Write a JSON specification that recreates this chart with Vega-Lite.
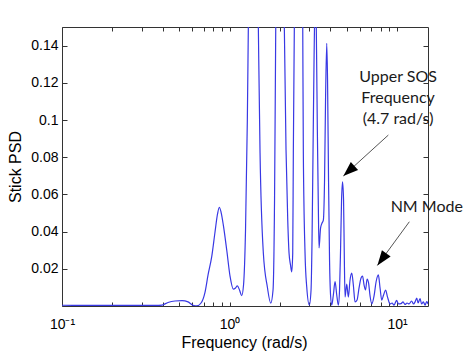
{
  "$schema": "https://vega.github.io/schema/vega-lite/v6.json",
  "width": 366,
  "height": 279,
  "autosize": {"type": "none"},
  "padding": {"left": 62, "top": 27, "right": 46, "bottom": 48},
  "background": "white",
  "config": {
    "view": {"stroke": null},
    "axis": {
      "grid": false,
      "domainColor": "#333333",
      "tickColor": "#333333",
      "domainWidth": 1,
      "tickWidth": 1,
      "labelFont": "Liberation Sans",
      "labelFontSize": 14,
      "labelColor": "#000000",
      "titleFont": "Liberation Sans",
      "titleFontSize": 16,
      "titleFontWeight": "normal",
      "titleColor": "#000000",
      "labelOverlap": false,
      "labelFlush": false
    }
  },
  "layer": [
    {
      "data": {"values": [
        {"f": 0.1, "psd": 0.0004}, {"f": 0.1281, "psd": 0.0003}, {"f": 0.222, "psd": 0.0003}, {"f": 0.3591, "psd": 0.0003},
        {"f": 0.3954, "psd": 0.0005}, {"f": 0.4294, "psd": 0.0019}, {"f": 0.4727, "psd": 0.0027}, {"f": 0.5205, "psd": 0.0029},
        {"f": 0.5652, "psd": 0.0022}, {"f": 0.6053, "psd": 0.0004}, {"f": 0.6397, "psd": 0.0001}, {"f": 0.676, "psd": 0.0016},
        {"f": 0.7143, "psd": 0.0075}, {"f": 0.7444, "psd": 0.0167}, {"f": 0.7829, "psd": 0.0265}, {"f": 0.8192, "psd": 0.0398},
        {"f": 0.848, "psd": 0.0495}, {"f": 0.8692, "psd": 0.0531}, {"f": 0.8898, "psd": 0.0505}, {"f": 0.9184, "psd": 0.0435},
        {"f": 0.9623, "psd": 0.0301}, {"f": 1.0069, "psd": 0.0161}, {"f": 1.0537, "psd": 0.0091}, {"f": 1.0859, "psd": 0.0097},
        {"f": 1.1131, "psd": 0.0108}, {"f": 1.1472, "psd": 0.0086}, {"f": 1.1823, "psd": 0.0056}, {"f": 1.2122, "psd": 0.0113},
        {"f": 1.2459, "psd": 0.0409}, {"f": 1.2774, "psd": 0.1}, {"f": 1.295, "psd": 0.15}, {"f": 1.3873, "psd": 0.38},
        {"f": 1.4858, "psd": 0.15}, {"f": 1.5211, "psd": 0.0823}, {"f": 1.5916, "psd": 0.0285}, {"f": 1.6816, "psd": 0.0102},
        {"f": 1.762, "psd": 0.0015}, {"f": 1.8185, "psd": 0.0086}, {"f": 1.8566, "psd": 0.057}, {"f": 1.8872, "psd": 0.15},
        {"f": 2.002, "psd": 0.38}, {"f": 2.124, "psd": 0.15}, {"f": 2.174, "psd": 0.0839}, {"f": 2.2257, "psd": 0.0462},
        {"f": 2.2656, "psd": 0.0285}, {"f": 2.313, "psd": 0.022}, {"f": 2.3511, "psd": 0.0184}, {"f": 2.3838, "psd": 0.0285},
        {"f": 2.4036, "psd": 0.0823}, {"f": 2.437, "psd": 0.15}, {"f": 2.5815, "psd": 0.38}, {"f": 2.7353, "psd": 0.15},
        {"f": 2.758, "psd": 0.0823}, {"f": 2.8229, "psd": 0.0285}, {"f": 2.8899, "psd": 0.0102}, {"f": 2.995, "psd": 0.0005},
        {"f": 3.0661, "psd": 0.0086}, {"f": 3.1081, "psd": 0.0355}, {"f": 3.1513, "psd": 0.0839}, {"f": 3.1951, "psd": 0.1322},
        {"f": 3.2614, "psd": 0.1753}, {"f": 3.3067, "psd": 0.1376}, {"f": 3.3435, "psd": 0.0946}, {"f": 3.3853, "psd": 0.057},
        {"f": 3.4222, "psd": 0.0312}, {"f": 3.4937, "psd": 0.0419}, {"f": 3.5661, "psd": 0.0446}, {"f": 3.6308, "psd": 0.0462},
        {"f": 3.6914, "psd": 0.0677}, {"f": 3.742, "psd": 0.1107}, {"f": 3.8045, "psd": 0.1412}, {"f": 3.8468, "psd": 0.1215},
        {"f": 3.8994, "psd": 0.0677}, {"f": 3.9537, "psd": 0.0247}, {"f": 4.0087, "psd": 0.0059}, {"f": 4.0749, "psd": 0.0005},
        {"f": 4.1659, "psd": 0.0059}, {"f": 4.2648, "psd": 0.0131}, {"f": 4.3652, "psd": 0.0059}, {"f": 4.4627, "psd": 0.0005},
        {"f": 4.5364, "psd": 0.0086}, {"f": 4.5994, "psd": 0.0301}, {"f": 4.6636, "psd": 0.057}, {"f": 4.7275, "psd": 0.0668},
        {"f": 4.7932, "psd": 0.057}, {"f": 4.8459, "psd": 0.0247}, {"f": 4.8929, "psd": 0.0048}, {"f": 5.008, "psd": 0.0118},
        {"f": 5.12, "psd": 0.0048}, {"f": 5.2405, "psd": 0.014}, {"f": 5.365, "psd": 0.0177}, {"f": 5.4837, "psd": 0.0113},
        {"f": 5.6138, "psd": 0.0022}, {"f": 5.7698, "psd": 0.0032}, {"f": 5.9301, "psd": 0.0097}, {"f": 6.096, "psd": 0.0151},
        {"f": 6.223, "psd": 0.0161}, {"f": 6.3533, "psd": 0.0113}, {"f": 6.4851, "psd": 0.0086}, {"f": 6.6209, "psd": 0.0145},
        {"f": 6.7595, "psd": 0.0124}, {"f": 6.8996, "psd": 0.0054}, {"f": 7.0632, "psd": 0.0011}, {"f": 7.2896, "psd": 0.0054},
        {"f": 7.4923, "psd": 0.0129}, {"f": 7.7339, "psd": 0.0167}, {"f": 7.9159, "psd": 0.0097}, {"f": 8.1037, "psd": 0.0032},
        {"f": 8.3058, "psd": 0.0059}, {"f": 8.5369, "psd": 0.0086}, {"f": 8.7759, "psd": 0.0048}, {"f": 9.0825, "psd": 0.0011},
        {"f": 9.335, "psd": 0.0016}, {"f": 9.596, "psd": 0.0005}, {"f": 9.9312, "psd": 0.003}, {"f": 10.2094, "psd": 0.0011},
        {"f": 10.5652, "psd": 0.0013}, {"f": 10.8596, "psd": 0.0022}, {"f": 11.1629, "psd": 0.0008}, {"f": 11.4735, "psd": 0.0016},
        {"f": 11.7922, "psd": 0.0011}, {"f": 12.206, "psd": 0.0027}, {"f": 12.5458, "psd": 0.0011}, {"f": 12.8087, "psd": 0.0022},
        {"f": 13.11, "psd": 0.0043}, {"f": 13.3479, "psd": 0.0016}, {"f": 13.719, "psd": 0.004}, {"f": 14.0064, "psd": 0.0011},
        {"f": 14.356, "psd": 0.0022}, {"f": 14.6968, "psd": 0.0005}, {"f": 15.0424, "psd": 0.0024}, {"f": 15.3092, "psd": 0.0011}
      ]},
      "mark": {"type": "line", "clip": true, "color": "#3838e4", "strokeWidth": 1.2, "interpolate": "monotone"},
      "encoding": {
        "x": {
          "field": "f", "type": "quantitative",
          "scale": {"type": "log", "domain": [0.1, 15.3], "nice": false},
          "axis": {
            "orient": "bottom",
            "values": [0.1, 0.2, 0.3, 0.4, 0.5, 0.6, 0.7, 0.8, 0.9, 1, 2, 3, 4, 5, 6, 7, 8, 9, 10],
            "labelExpr": "abs(log(datum.value)/LN10 - round(log(datum.value)/LN10)) < 0.001 ? (round(log(datum.value)/LN10) == -1 ? '10⁻¹' : (round(log(datum.value)/LN10) == 0 ? '10⁰' : '10¹')) : ''",
            "tickSize": -4,
            "labelPadding": 26,
            "labelBaseline": "alphabetic",
            "title": "Frequency (rad/s)",
            "titleBaseline": "alphabetic",
            "titleY": 41.5,
            "titleX": 182
          }
        },
        "y": {
          "field": "psd", "type": "quantitative",
          "scale": {"domain": [0, 0.15], "nice": false, "zero": false},
          "axis": {
            "orient": "left",
            "values": [0.02, 0.04, 0.06, 0.08, 0.1, 0.12, 0.14],
            "format": ".2~f",
            "tickSize": -5,
            "labelPadding": 9,
            "title": "Stick PSD",
            "titleBaseline": "alphabetic",
            "titleX": -41.3,
            "titleY": 139.5,
            "titleAngle": -90
          }
        }
      }
    },
    {
      "data": {"values": [
        {"f": 10.14, "psd": 0.1206, "label": "Upper SOS"},
        {"f": 10.14, "psd": 0.109, "label": "Frequency"},
        {"f": 10.14, "psd": 0.0978, "label": "(4.7 rad/s)"},
        {"f": 15.04, "psd": 0.0507, "label": "NM Mode"}
      ]},
      "mark": {"type": "text", "font": "Lato", "fontSize": 16, "color": "#1a1a1a", "align": "center", "baseline": "alphabetic"},
      "encoding": {
        "x": {
          "field": "f", "type": "quantitative",
          "scale": {"type": "log", "domain": [0.1, 15.3], "nice": false},
          "axis": {
            "orient": "top",
            "values": [0.1, 0.2, 0.3, 0.4, 0.5, 0.6, 0.7, 0.8, 0.9, 1, 2, 3, 4, 5, 6, 7, 8, 9, 10],
            "labels": false,
            "tickSize": -4,
            "title": null
          }
        },
        "y": {
          "field": "psd", "type": "quantitative",
          "scale": {"domain": [0, 0.15], "nice": false, "zero": false},
          "axis": {
            "orient": "right",
            "values": [0.02, 0.04, 0.06, 0.08, 0.1, 0.12, 0.14],
            "labels": false,
            "tickSize": -5,
            "title": null
          }
        },
        "text": {"field": "label", "type": "nominal"}
      }
    },
    {
      "data": {"values": [
        {"f": 8.87, "psd": 0.0919, "f2": 4.78, "psd2": 0.0699},
        {"f": 11.84, "psd": 0.0453, "f2": 7.63, "psd2": 0.0218}
      ]},
      "mark": {"type": "rule", "color": "#555555", "strokeWidth": 1},
      "encoding": {
        "x": {"field": "f", "type": "quantitative", "scale": {"type": "log", "domain": [0.1, 15.3], "nice": false}, "axis": null},
        "y": {"field": "psd", "type": "quantitative", "scale": {"domain": [0, 0.15], "nice": false, "zero": false}, "axis": null},
        "x2": {"field": "f2"},
        "y2": {"field": "psd2"}
      }
    },
    {
      "data": {"values": [{"f": 4.78, "psd": 0.0699}]},
      "mark": {"type": "point", "filled": true, "color": "#000000", "opacity": 1, "shape": "M0,0L-0.36,1L0.36,1Z", "size": 900, "angle": 227.7},
      "encoding": {
        "x": {"field": "f", "type": "quantitative", "scale": {"type": "log", "domain": [0.1, 15.3], "nice": false}, "axis": null},
        "y": {"field": "psd", "type": "quantitative", "scale": {"domain": [0, 0.15], "nice": false, "zero": false}, "axis": null}
      }
    },
    {
      "data": {"values": [{"f": 7.63, "psd": 0.0218}]},
      "mark": {"type": "point", "filled": true, "color": "#000000", "opacity": 1, "shape": "M0,0L-0.36,1L0.36,1Z", "size": 900, "angle": 216.4},
      "encoding": {
        "x": {"field": "f", "type": "quantitative", "scale": {"type": "log", "domain": [0.1, 15.3], "nice": false}, "axis": null},
        "y": {"field": "psd", "type": "quantitative", "scale": {"domain": [0, 0.15], "nice": false, "zero": false}, "axis": null}
      }
    }
  ],
  "resolve": {"scale": {"x": "independent", "y": "independent"}}
}
